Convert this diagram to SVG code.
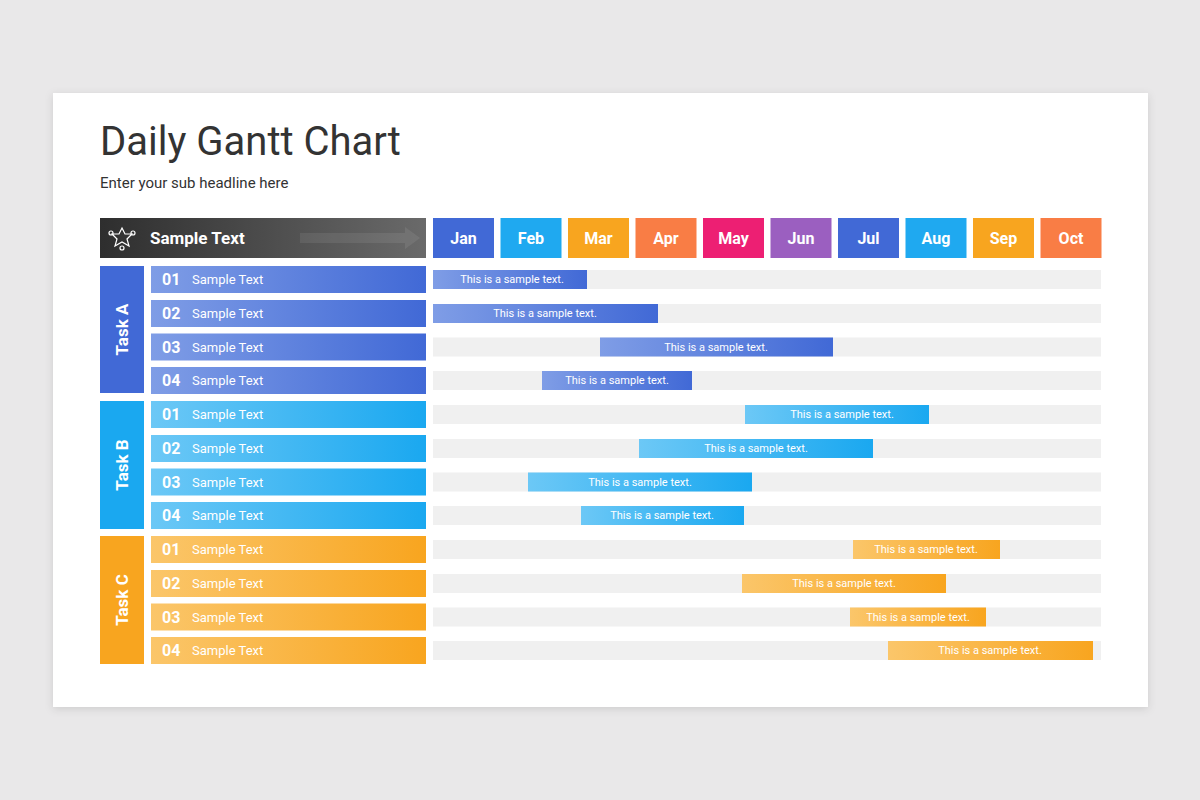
<svg xmlns="http://www.w3.org/2000/svg" width="1200" height="800" viewBox="0 0 1200 800">
<defs>
<linearGradient id="gA" x1="0" x2="1"><stop offset="0" stop-color="#7f9de6"/><stop offset="1" stop-color="#4169d6"/></linearGradient>
<linearGradient id="gB" x1="0" x2="1"><stop offset="0" stop-color="#6cc8f6"/><stop offset="1" stop-color="#1aa8f0"/></linearGradient>
<linearGradient id="gC" x1="0" x2="1"><stop offset="0" stop-color="#fbc66a"/><stop offset="1" stop-color="#f8a51f"/></linearGradient>
<linearGradient id="gD" x1="0" x2="1"><stop offset="0" stop-color="#2e2e2e"/><stop offset="1" stop-color="#6a6a6a"/></linearGradient>
<filter id="sh" x="-5%" y="-5%" width="110%" height="110%"><feDropShadow dx="0" dy="2" stdDeviation="4" flood-opacity="0.12"/></filter>
</defs>
<style>
text{font-family:Roboto,"Liberation Sans",sans-serif}
.m{fill:#fff;font-size:16px;font-weight:bold;text-anchor:middle}
.n{fill:#fff;font-size:16px;font-weight:bold}
.s{fill:#fff;font-size:13px}
.b{fill:#fff;font-size:11px;text-anchor:middle}
.t{fill:#f0f0f0}
.k{fill:#fff;font-size:17px;font-weight:bold;text-anchor:middle}
</style>
<rect width="1200" height="800" fill="#e9e8e9"/>
<rect x="53" y="93" width="1095" height="614" fill="#fff" filter="url(#sh)"/>
<text x="100" y="155" font-size="40" fill="#333">Daily Gantt Chart</text>
<text x="100" y="188" font-size="15" fill="#333">Enter your sub headline here</text>
<g id="header">
<rect x="100" y="218" width="326" height="40" fill="url(#gD)"/>
<path d="M300 233 H405 V227 L420 238 L405 249 V243 H300 Z" fill="#fff" opacity="0.08"/>
<g fill="none" stroke="#fff" stroke-width="1.2"><path d="M122 228 L125 234 L132 234 L127 239 L129 246 L122 242 L115 246 L117 239 L112 234 L119 234 Z"/><circle cx="122" cy="248" r="2"/><circle cx="111" cy="233" r="2"/><circle cx="133" cy="233" r="2"/></g>
<text x="150" y="244" class="n" font-size="17" style="font-size:17px">Sample Text</text>
</g>
<g id="months">
<rect x="433" y="218" width="61" height="40" fill="#4169d6"/><text x="463.5" y="244" class="m">Jan</text>
<rect x="500.5" y="218" width="61" height="40" fill="#1fa9f0"/><text x="531" y="244" class="m">Feb</text>
<rect x="568" y="218" width="61" height="40" fill="#f8a51f"/><text x="598.5" y="244" class="m">Mar</text>
<rect x="635.5" y="218" width="61" height="40" fill="#f97d45"/><text x="666" y="244" class="m">Apr</text>
<rect x="703" y="218" width="61" height="40" fill="#ed1f73"/><text x="733.5" y="244" class="m">May</text>
<rect x="770.5" y="218" width="61" height="40" fill="#9b5fc0"/><text x="801" y="244" class="m">Jun</text>
<rect x="838" y="218" width="61" height="40" fill="#4169d6"/><text x="868.5" y="244" class="m">Jul</text>
<rect x="905.5" y="218" width="61" height="40" fill="#1fa9f0"/><text x="936" y="244" class="m">Aug</text>
<rect x="973" y="218" width="61" height="40" fill="#f8a51f"/><text x="1003.5" y="244" class="m">Sep</text>
<rect x="1040.5" y="218" width="61" height="40" fill="#f97d45"/><text x="1071" y="244" class="m">Oct</text>
</g>
<g id="tasks">
<rect x="100" y="266" width="44" height="127" fill="#4169d6"/><text transform="translate(128 329.5) rotate(-90)" class="k">Task A</text>
<rect x="100" y="401" width="44" height="128" fill="#1aa8f0"/><text transform="translate(128 465) rotate(-90)" class="k">Task B</text>
<rect x="100" y="536" width="44" height="128" fill="#f8a51f"/><text transform="translate(128 600) rotate(-90)" class="k">Task C</text>
</g>
<g id="rows">
<rect x="151" y="266" width="275" height="27" fill="url(#gA)"/><text x="162" y="285" class="n">01</text><text x="192" y="284" class="s">Sample Text</text>
<rect x="151" y="300" width="275" height="27" fill="url(#gA)"/><text x="162" y="319" class="n">02</text><text x="192" y="318" class="s">Sample Text</text>
<rect x="151" y="333.5" width="275" height="27" fill="url(#gA)"/><text x="162" y="352.5" class="n">03</text><text x="192" y="351.5" class="s">Sample Text</text>
<rect x="151" y="367" width="275" height="27" fill="url(#gA)"/><text x="162" y="386" class="n">04</text><text x="192" y="385" class="s">Sample Text</text>
<rect x="151" y="401" width="275" height="27" fill="url(#gB)"/><text x="162" y="420" class="n">01</text><text x="192" y="419" class="s">Sample Text</text>
<rect x="151" y="435" width="275" height="27" fill="url(#gB)"/><text x="162" y="454" class="n">02</text><text x="192" y="453" class="s">Sample Text</text>
<rect x="151" y="468.5" width="275" height="27" fill="url(#gB)"/><text x="162" y="487.5" class="n">03</text><text x="192" y="486.5" class="s">Sample Text</text>
<rect x="151" y="502" width="275" height="27" fill="url(#gB)"/><text x="162" y="521" class="n">04</text><text x="192" y="520" class="s">Sample Text</text>
<rect x="151" y="536" width="275" height="27" fill="url(#gC)"/><text x="162" y="555" class="n">01</text><text x="192" y="554" class="s">Sample Text</text>
<rect x="151" y="570" width="275" height="27" fill="url(#gC)"/><text x="162" y="589" class="n">02</text><text x="192" y="588" class="s">Sample Text</text>
<rect x="151" y="603.5" width="275" height="27" fill="url(#gC)"/><text x="162" y="622.5" class="n">03</text><text x="192" y="621.5" class="s">Sample Text</text>
<rect x="151" y="637" width="275" height="27" fill="url(#gC)"/><text x="162" y="656" class="n">04</text><text x="192" y="655" class="s">Sample Text</text>
</g>
<g id="tracks">
<rect x="433" y="270" width="668" height="19" class="t"/>
<rect x="433" y="304" width="668" height="19" class="t"/>
<rect x="433" y="337.5" width="668" height="19" class="t"/>
<rect x="433" y="371" width="668" height="19" class="t"/>
<rect x="433" y="405" width="668" height="19" class="t"/>
<rect x="433" y="439" width="668" height="19" class="t"/>
<rect x="433" y="472.5" width="668" height="19" class="t"/>
<rect x="433" y="506" width="668" height="19" class="t"/>
<rect x="433" y="540" width="668" height="19" class="t"/>
<rect x="433" y="574" width="668" height="19" class="t"/>
<rect x="433" y="607.5" width="668" height="19" class="t"/>
<rect x="433" y="641" width="668" height="19" class="t"/>
</g>
<g id="bars">
<rect x="433" y="270" width="154" height="19" fill="url(#gA)"/><text x="512" y="283" class="b">This is a sample text.</text>
<rect x="433" y="304" width="225" height="19" fill="url(#gA)"/><text x="545" y="317" class="b">This is a sample text.</text>
<rect x="600" y="337.5" width="233" height="19" fill="url(#gA)"/><text x="716" y="350.5" class="b">This is a sample text.</text>
<rect x="542" y="371" width="150" height="19" fill="url(#gA)"/><text x="617" y="384" class="b">This is a sample text.</text>
<rect x="745" y="405" width="184" height="19" fill="url(#gB)"/><text x="842" y="418" class="b">This is a sample text.</text>
<rect x="639" y="439" width="234" height="19" fill="url(#gB)"/><text x="756" y="452" class="b">This is a sample text.</text>
<rect x="528" y="472.5" width="224" height="19" fill="url(#gB)"/><text x="640" y="485.5" class="b">This is a sample text.</text>
<rect x="581" y="506" width="163" height="19" fill="url(#gB)"/><text x="662" y="519" class="b">This is a sample text.</text>
<rect x="853" y="540" width="147" height="19" fill="url(#gC)"/><text x="926" y="553" class="b">This is a sample text.</text>
<rect x="742" y="574" width="204" height="19" fill="url(#gC)"/><text x="844" y="587" class="b">This is a sample text.</text>
<rect x="850" y="607.5" width="136" height="19" fill="url(#gC)"/><text x="918" y="620.5" class="b">This is a sample text.</text>
<rect x="888" y="641" width="205" height="19" fill="url(#gC)"/><text x="990" y="654" class="b">This is a sample text.</text>
</g>
</svg>
